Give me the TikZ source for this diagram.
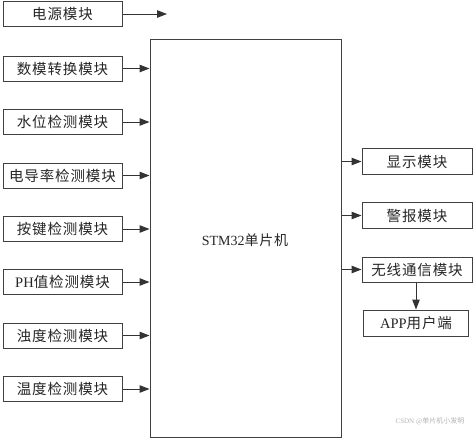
\documentclass[tikz,border=0pt]{standalone}
\usepackage{fontspec}
\setmainfont{Liberation Serif}
\newfontfamily\cjk[LetterSpace=6]{Noto Sans CJK SC}
\newfontfamily\cjkw{Noto Sans CJK SC}
\usetikzlibrary{arrows.meta}
\begin{document}
\begin{tikzpicture}[x=1pt,y=-1pt,
  box/.style={draw=black!75,line width=1pt,fill=white,inner sep=0pt,text=black!85,font=\fontsize{14.5}{16}\selectfont},
  lbox/.style={box,minimum width=119pt,minimum height=25pt},
  rbox/.style={box,minimum width=110pt,minimum height=26pt},
  arr/.style={draw=black!80,line width=1pt,-{Triangle[length=10pt,width=7.5pt]}}]
\useasboundingbox (0,0) rectangle (474,440);
\node[draw=black!75,line width=1pt,minimum width=191pt,minimum height=398pt,inner sep=0pt] (mcu) at (245.5,238) {};
\node[text=black!85,font=\fontsize{14}{16}\selectfont] (mcut) at (245,240) {STM32{\cjk 单片机}};
\node[lbox] (p) at (62.5,14) {\cjk 电源模块};
\node[lbox] (m1) at (62.5,68.5) {\cjk 数模转换模块};
\node[lbox] (m2) at (62.5,122) {\cjk 水位检测模块};
\node[lbox] (m3) at (62.5,175.5) {\cjk 电导率检测模块};
\node[lbox] (m4) at (62.5,229) {\cjk 按键检测模块};
\node[lbox] (m5) at (62.5,282) {PH{\cjk 值检测模块}};
\node[lbox] (m6) at (62.5,335.5) {\cjk 浊度检测模块};
\node[lbox] (m7) at (62.5,389) {\cjk 温度检测模块};
\coordinate (pend) at (167,14);
\draw[arr] (p.east) -- (pend);
\foreach \n in {m1,m2,m3,m4,m5,m6,m7}{
  \draw[arr] (\n.east) -- (\n.east -| mcu.west);
}
\node[rbox] (d) at (417,161.5) {\cjk 显示模块};
\node[rbox] (a) at (417,215.5) {\cjk 警报模块};
\node[rbox,minimum height=25pt] (w) at (417,269.5) {\cjk 无线通信模块};
\node[box,minimum width=105pt,minimum height=26pt] (app) at (416,323) {APP{\cjk 用户端}};
\foreach \n in {d,a,w}{
  \draw[arr] (mcu.east |- \n.west) -- (\n.west);
}
\draw[arr] (w.south -| app.north) -- (app.north);
\node[text=black!30,font=\fontsize{7}{8}\selectfont,anchor=east] (wm) at (468,421) {CSDN @{\cjkw 单片机小发明}};
\end{tikzpicture}
\end{document}
